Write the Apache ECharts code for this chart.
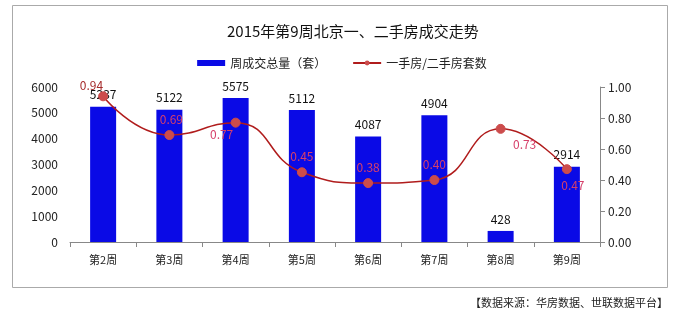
<!DOCTYPE html>
<html>
<head>
<meta charset="utf-8">
<script src="https://cdn.jsdelivr.net/npm/echarts@6/dist/echarts.min.js"></script>
<style>
  html, body { margin: 0; padding: 0; background: #fff; }
  #chart { width: 684px; height: 319px; }
</style>
</head>
<body>
<div id="chart"></div>
<script>
const weeks = ['第2周', '第3周', '第4周', '第5周', '第6周', '第7周', '第8周', '第9周']
const dealCount = [5237, 5122, 5575, 5112, 4087, 4904, 428, 2914]
const ratio = [0.94, 0.69, 0.77, 0.45, 0.38, 0.40, 0.73, 0.47]
const leftTicks = [0, 6000, 1000]
const rightTicks = [0, 1, 0.2]

// label placement for each ratio point, as in the source picture
const ratioLabelPos = [
  { position: 'left', offset: [10, -11], color: '#a52a2a' },
  { position: 'top', offset: [2, 0] },
  { position: 'bottom', offset: [-14, -4] },
  { position: 'top', offset: [0, 0] },
  { position: 'top', offset: [0, 0] },
  { position: 'top', offset: [0, 0] },
  { position: 'bottom', offset: [24, 0] },
  { position: 'bottom', offset: [6, 0] }
]

const chart = echarts.init(document.getElementById('chart'))
const font = '"Noto Sans CJK SC", "Noto Sans", sans-serif'

const option = {
  animation: false,
  textStyle: { fontFamily: font },
  title: {
    text: '2015年第9周北京一、二手房成交走势',
    left: 222,
    top: 19,
    textStyle: { fontSize: 15, fontWeight: 'normal', color: '#111', fontFamily: font }
  },
  legend: {
    top: 52,
    left: 'center',
    itemGap: 26,
    itemWidth: 28,
    itemHeight: 6,
    textStyle: { fontSize: 12, color: '#222' },
    data: [
      { name: '周成交总量（套）', icon: 'rect' },
      { name: '一手房/二手房套数' }
    ]
  },
  graphic: [
    {
      type: 'rect',
      shape: { x: 12.5, y: 5.5, width: 655, height: 282 },
      style: { fill: 'none', stroke: '#aaa', lineWidth: 1 },
      silent: true,
      z: -1
    },
    {
      type: 'text',
      right: 16,
      top: 297,
      style: { text: '【数据来源：华房数据、世联数据平台】', fontSize: 11, fill: '#222', fontFamily: font }
    }
  ],
  grid: { left: 70, right: 84, top: 87, bottom: 77 },
  xAxis: {
    type: 'category',
    data: weeks,
    axisLine: { lineStyle: { color: '#888' } },
    axisTick: { show: true, length: 5, lineStyle: { color: '#888' } },
    axisLabel: { color: '#222', fontSize: 11, margin: 12 }
  },
  yAxis: [
    {
      type: 'value',
      min: leftTicks[0],
      max: leftTicks[1],
      interval: leftTicks[2],
      splitLine: { show: false },
      axisLine: { show: false },
      axisTick: { show: false },
      axisLabel: { color: '#222', fontSize: 12, margin: 12, formatter: v => String(v) }
    },
    {
      type: 'value',
      min: rightTicks[0],
      max: rightTicks[1],
      interval: rightTicks[2],
      splitLine: { show: false },
      axisLine: { show: true, lineStyle: { color: '#888' } },
      axisTick: { show: true, length: 5, lineStyle: { color: '#888' } },
      axisLabel: { color: '#222', fontSize: 12, margin: 8, formatter: v => v.toFixed(2) }
    }
  ],
  series: [
    {
      name: '周成交总量（套）',
      type: 'bar',
      barWidth: 26,
      itemStyle: { color: '#0a0ae6' },
      label: { show: true, position: 'top', color: '#111', fontSize: 12, distance: 6 },
      data: dealCount
    },
    {
      name: '一手房/二手房套数',
      type: 'line',
      yAxisIndex: 1,
      smooth: true,
      symbol: 'circle',
      symbolSize: 9,
      lineStyle: { color: '#b01c1c', width: 1.5 },
      itemStyle: { color: '#cc4c4c', borderColor: '#cc4c4c' },
      label: { show: true, color: '#d6406a', fontSize: 12, formatter: p => p.value.toFixed(2) },
      z: 3,
      data: ratio.map((v, i) => ({ value: v, label: ratioLabelPos[i] }))
    }
  ]
}
chart.setOption(option)
</script>
</body>
</html>
